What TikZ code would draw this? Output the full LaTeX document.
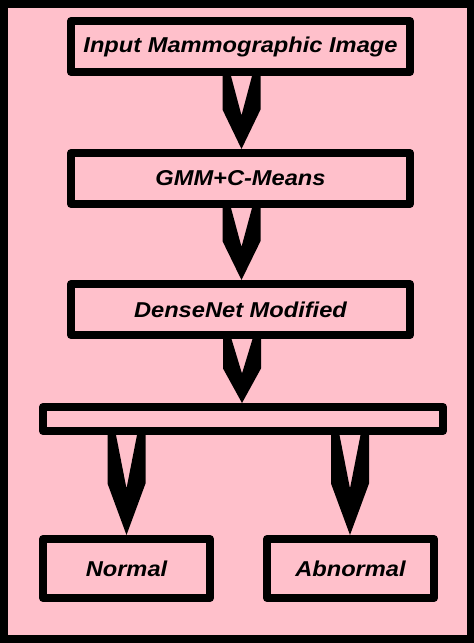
\documentclass[tikz,border=0pt]{standalone}
\usepackage{fontspec}
\setmainfont{Liberation Sans}[FakeStretch=1.1]
\usetikzlibrary{calc}
\definecolor{bgpink}{RGB}{255,192,203}
\tikzset{
  flowbox/.style={draw=black, line width=8pt, line join=round, fill=bgpink,
    inner sep=0pt, font=\fontsize{21.5}{24}\selectfont\bfseries\itshape},
}
\newcommand\chevron[4]{% top, bottom, side fraction, notch fraction
  \fill[black] ($(#1)+(-19,0)$) -- ($(#1)+(-10.5,0)$) -- ($(#1)!#4!(#2)$) --
    ($(#1)+(10.5,0)$) -- ($(#1)+(19,0)$) -- ($(#1)!#3!(#2)+(19,0)$) -- (#2) --
    ($(#1)!#3!(#2)+(-19,0)$) -- cycle;}
\begin{document}
\begin{tikzpicture}[x=1pt,y=-1pt]
\useasboundingbox (0,0) rectangle (474,643);
\fill[black] (0,0) rectangle (474,643);
\fill[bgpink] (8,8) rectangle (467,635);
\node[flowbox, minimum width=339pt, minimum height=51pt] (b1) at (240.5,46.5) {Input Mammographic Image};
\node[flowbox, minimum width=339pt, minimum height=51pt] (b2) at (240.5,178.5) {GMM+C-Means};
\node[flowbox, minimum width=339pt, minimum height=51pt] (b3) at (240.5,309.5) {DenseNet Modified};
\node[flowbox, minimum width=400pt, minimum height=24pt] (bar) at (243,419) {};
\node[flowbox, minimum width=167pt, minimum height=59pt] (normal) at (126.5,568.5) {Normal};
\node[flowbox, minimum width=167pt, minimum height=59pt] (abnormal) at (350.5,568.5) {Abnormal};
\coordinate (a1t) at ($(b1.south)+(1,0)$);
\coordinate (a1b) at ($(b2.north)+(1,0)$);
\coordinate (a2t) at ($(b2.south)+(1,0)$);
\coordinate (a2b) at ($(b3.north)+(1,0)$);
\coordinate (a3t) at ($(b3.south)+(1.5,0)$);
\coordinate (a3b) at (a3t |- bar.north);
\coordinate (a4t) at ($(normal.north |- bar.south)+(0,0)$);
\coordinate (a4b) at ($(normal.north)+(0,0)$);
\coordinate (a5t) at ($(abnormal.north |- bar.south)+(-0.5,0)$);
\coordinate (a5b) at ($(abnormal.north)+(-0.5,0)$);
\chevron{a1t}{a1b}{0.46}{0.54}
\chevron{a2t}{a2b}{0.46}{0.54}
\chevron{a3t}{a3b}{0.46}{0.54}
\chevron{a4t}{a4b}{0.485}{0.535}
\chevron{a5t}{a5b}{0.485}{0.535}
\end{tikzpicture}
\end{document}
